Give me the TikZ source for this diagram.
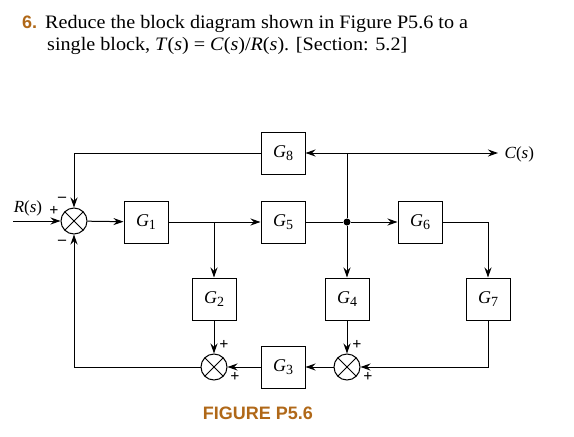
\documentclass[tikz,border=0pt]{standalone}
\usepackage{fontspec}
\setmainfont{Liberation Serif}
\newfontfamily\titlefont[FakeStretch=1.06]{Liberation Serif}
\newfontfamily\figfont{Liberation Sans}
\usetikzlibrary{arrows.meta}
\definecolor{figbrown}{RGB}{176,104,24}
\tikzstyle{block} = [rectangle, minimum width=44pt, minimum height=42pt, inner sep=0pt, draw=black, line width=1pt, font=\fontsize{18}{18}\selectfont]
\tikzstyle{sumj} = [circle, minimum size=26pt, inner sep=0pt, draw=black, line width=1pt,
  path picture={\draw[line width=1pt] (path picture bounding box.north west)--(path picture bounding box.south east)
  (path picture bounding box.north east)--(path picture bounding box.south west);}]
\tikzstyle{arrow} = [line width=1pt,-{Stealth[length=10pt,width=7pt]}]
\tikzstyle{line} = [line width=1pt]
\tikzstyle{sign} = [inner sep=0pt, font=\fontsize{16}{16}\selectfont\bfseries]
\newcommand{\gain}[1]{\textit{G}\raisebox{-2.5pt}{\fontsize{14}{14}\selectfont #1}}

\begin{document}
\begin{tikzpicture}[x=1pt,y=-1pt]
\useasboundingbox (0,0) rectangle (574,437);

% problem statement
\node[anchor=base west, inner sep=0pt] (num) at (22,28) {\figfont\fontsize{18}{21}\selectfont\bfseries\color{figbrown}6.};
\node[anchor=base west, inner sep=0pt] (line1) at (45,28) {\titlefont\fontsize{19}{22}\selectfont Reduce the block diagram shown in Figure P5.6 to a};
\node[anchor=base west, inner sep=0pt] (line2) at (47,50) {\titlefont\fontsize{19}{22}\selectfont single block, \textit{T}(\textit{s}) = \textit{C}(\textit{s})/\textit{R}(\textit{s}). [Section: 5.2]};

% blocks and junctions
\node[sumj] (s1) at (74,221) {};
\node[block] (g1) at (146,222) {\gain1};
\node[block] (g5) at (283,222) {\gain5};
\node[block] (g8) at (283,153) {\gain8};
\node[block] (g6) at (420,222) {\gain6};
\node[block] (g2) at (214,299) {\gain2};
\node[block] (g4) at (347,299) {\gain4};
\node[block] (g7) at (488,299) {\gain7};
\node[block] (g3) at (283,367) {\gain3};
\node[sumj] (s2) at (214,367) {};
\node[sumj] (s3) at (347,367) {};
\node[circle, fill=black, inner sep=0pt, minimum size=7pt] (d1) at (347,222) {};
\coordinate (b1) at (214,222);
\coordinate (t1) at (347,153);
\coordinate (in) at (13,221);
\coordinate (out) at (498,153);

% connectors
\draw[arrow] (in) -- (s1);
\draw[arrow] (s1) -- (g1);
\draw[arrow] (g1) -- (g5);
\draw[arrow] (b1) -- (g2);
\draw[line] (g5) -- (d1);
\draw[arrow] (d1) -- (g6);
\draw[arrow] (d1) -- (g4);
\draw[line] (d1) -- (t1);
\draw[arrow] (t1) -- (out);
\draw[arrow] (t1) -- (g8);
\draw[arrow] (g8) -| (s1);
\draw[arrow] (g6) -| (g7);
\draw[arrow] (g2) -- (s2);
\draw[arrow] (g4) -- (s3);
\draw[arrow] (g7) |- (s3);
\draw[arrow] (s3) -- (g3);
\draw[arrow] (g3) -- (s2);
\draw[arrow] (s2) -| (s1);

% signals and signs
\node[font=\fontsize{17}{17}\selectfont] (rlab) at (28,208) {\textit{R}(\textit{s})};
\node[anchor=west, font=\fontsize{17}{17}\selectfont] (clab) at (501,154) {\textit{C}(\textit{s})};
\node[sign] (p1) at (54,211) {+};
\node[sign] (m1) at (62,199) {\textendash};
\node[sign] (m2) at (62,242) {\textendash};
\foreach \sx/\nm in {214/s2, 347/s3}{
  \node[sign] (\nm a) at (\sx+10,345) {+};
  \node[sign] (\nm b) at (\sx+21,377) {+};
}

\node[font=\figfont\fontsize{18}{18}\selectfont\bfseries, text=figbrown] (cap) at (258,413) {FIGURE P5.6};
\end{tikzpicture}
\end{document}
